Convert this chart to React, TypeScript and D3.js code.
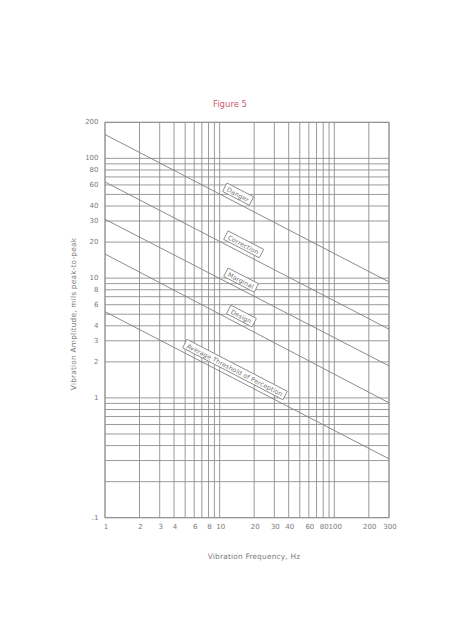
import React, { useEffect, useRef } from 'react';
import * as d3 from 'd3';

const W = 474;
const H = 632;

const chartTitle = 'Figure 5';
const xAxisTitle = 'Vibration Frequency, Hz';
const yAxisTitle = 'Vibration Amplitude, mils peak-to-peak';

const xDomain = [1, 300];
const yDomain = [0.1, 200];

const xTickValues = [1, 2, 3, 4, 6, 8, 10, 20, 30, 40, 60, 80, 100, 200, 300];
const yTickValues = [200, 100, 80, 60, 40, 30, 20, 10, 8, 6, 4, 3, 2, 1, 0.1];
const yTickLabels = ['200', '100', '80', '60', '40', '30', '20', '10', '8', '6', '4', '3', '2', '1', '.1'];

const xGridValues = [1, 2, 3, 4, 5, 6, 7, 8, 9, 10, 20, 30, 40, 50, 60, 70, 80, 90, 100, 200, 300];
const yGridValues = [0.1, 0.2, 0.3, 0.4, 0.5, 0.6, 0.7, 0.8, 0.9, 1, 2, 3, 4, 5, 6, 7, 8, 9, 10, 20, 30, 40, 50, 60, 70, 80, 90, 100, 200];

const curveNames = ['Danger', 'Correction', 'Marginal', 'Design', 'Average Threshold of Perception'];
const curveFreqStart = [1, 1, 1, 1, 1];
const curveFreqEnd = [300, 300, 300, 300, 300];
const curveAmpStart = [158, 63.5, 31, 15.9, 5.25];
const curveAmpEnd = [9.3, 3.75, 1.85, 0.91, 0.31];
const curveLabelFreq = [14.5, 16.2, 15.4, 15.5, 13.6];

export default function App() {
  const ref = useRef<SVGSVGElement | null>(null);

  useEffect(() => {
    const svg = d3.select(ref.current);
    svg.selectAll('*').remove();

    const left = 105, right = 389, top = 122.3, bottom = 517.7;
    const x = d3.scaleLog().domain(xDomain).range([left, right]);
    const y = d3.scaleLog().domain(yDomain).range([bottom, top]);

    const gridColor = '#8f8f8f';
    const textColor = '#7a7a7a';
    const font = '"DejaVu Sans", sans-serif';

    svg.append('rect').attr('width', W).attr('height', H).attr('fill', '#ffffff');

    // title
    svg.append('text')
      .attr('x', 230).attr('y', 104)
      .attr('text-anchor', 'middle').attr('dominant-baseline', 'central')
      .attr('font-family', font).attr('font-size', 8.5)
      .attr('fill', '#cf5a6e')
      .text(chartTitle);

    const grid = svg.append('g').attr('stroke', gridColor).attr('stroke-width', 0.9).attr('fill', 'none');
    grid.selectAll('line.v').data(xGridValues).join('line')
      .attr('class', 'v')
      .attr('x1', (d) => x(d)).attr('x2', (d) => x(d))
      .attr('y1', top).attr('y2', bottom);
    grid.selectAll('line.h').data(yGridValues).join('line')
      .attr('class', 'h')
      .attr('y1', (d) => y(d)).attr('y2', (d) => y(d))
      .attr('x1', left).attr('x2', right);
    grid.append('rect')
      .attr('x', left).attr('y', top)
      .attr('width', right - left).attr('height', bottom - top);

    // y tick labels
    svg.append('g').selectAll('text').data(yTickValues).join('text')
      .attr('x', left - 6.5).attr('y', (d) => y(d))
      .attr('text-anchor', 'end').attr('dominant-baseline', 'central')
      .attr('font-family', font).attr('font-size', 7)
      .attr('fill', textColor)
      .text((d, i) => yTickLabels[i]);

    // x tick labels
    svg.append('g').selectAll('text').data(xTickValues).join('text')
      .attr('x', (d) => x(d) + 1).attr('y', bottom + 9)
      .attr('text-anchor', 'middle').attr('dominant-baseline', 'central')
      .attr('font-family', font).attr('font-size', 7)
      .attr('fill', textColor)
      .text((d) => String(d));

    // axis titles
    svg.append('text')
      .attr('x', (left + right) / 2 + 7).attr('y', 556)
      .attr('text-anchor', 'middle').attr('dominant-baseline', 'central')
      .attr('font-family', font).attr('font-size', 7.4)
      .attr('fill', textColor)
      .attr('letter-spacing', 0.2)
      .text(xAxisTitle);
    svg.append('text')
      .attr('transform', 'translate(73.5,314) rotate(-90)')
      .attr('text-anchor', 'middle').attr('dominant-baseline', 'central')
      .attr('font-family', font).attr('font-size', 7.4)
      .attr('fill', textColor)
      .attr('letter-spacing', 0.2)
      .text(yAxisTitle);

    // curves
    const lineGen = d3.line<[number, number]>().x((d) => x(d[0])).y((d) => y(d[1]));
    const curves = curveNames.map((name, i) => ({
      name,
      pts: [[curveFreqStart[i], curveAmpStart[i]], [curveFreqEnd[i], curveAmpEnd[i]]] as [number, number][],
      labelFreq: curveLabelFreq[i],
    }));

    svg.append('g').selectAll('path').data(curves).join('path')
      .attr('d', (d) => lineGen(d.pts))
      .attr('fill', 'none').attr('stroke', '#7f7f7f').attr('stroke-width', 0.9);

    curves.forEach((c) => {
      const [p0, p1] = c.pts;
      const x0 = x(p0[0]), y0 = y(p0[1]), x1 = x(p1[0]), y1 = y(p1[1]);
      const ang = (Math.atan2(y1 - y0, x1 - x0) * 180) / Math.PI;
      const cx = x(c.labelFreq);
      const t = (cx - x0) / (x1 - x0);
      const cy = y0 + t * (y1 - y0) - 9.5;
      const g = svg.append('g').attr('transform', `translate(${cx},${cy}) rotate(${ang})`);
      const rect = g.append('rect');
      const txt = g.append('text')
        .attr('x', 0).attr('y', 0.3)
        .attr('text-anchor', 'middle').attr('dominant-baseline', 'central')
        .attr('font-family', font).attr('font-size', 6.3)
        .attr('fill', '#6f6f6f')
        .attr('letter-spacing', 0.15)
        .text(c.name);
      const len = (txt.node() as SVGTextElement).getComputedTextLength();
      const w = len + 6;
      const h = 9.5;
      rect.attr('x', -w / 2).attr('y', -h / 2).attr('width', w).attr('height', h)
        .attr('fill', '#ffffff').attr('stroke', '#7f7f7f').attr('stroke-width', 0.8);
    });
  }, []);

  return (
    <svg
      ref={ref}
      width={W}
      height={H}
      style={{ position: 'absolute', left: 0, top: 0, display: 'block' }}
    />
  );
}
